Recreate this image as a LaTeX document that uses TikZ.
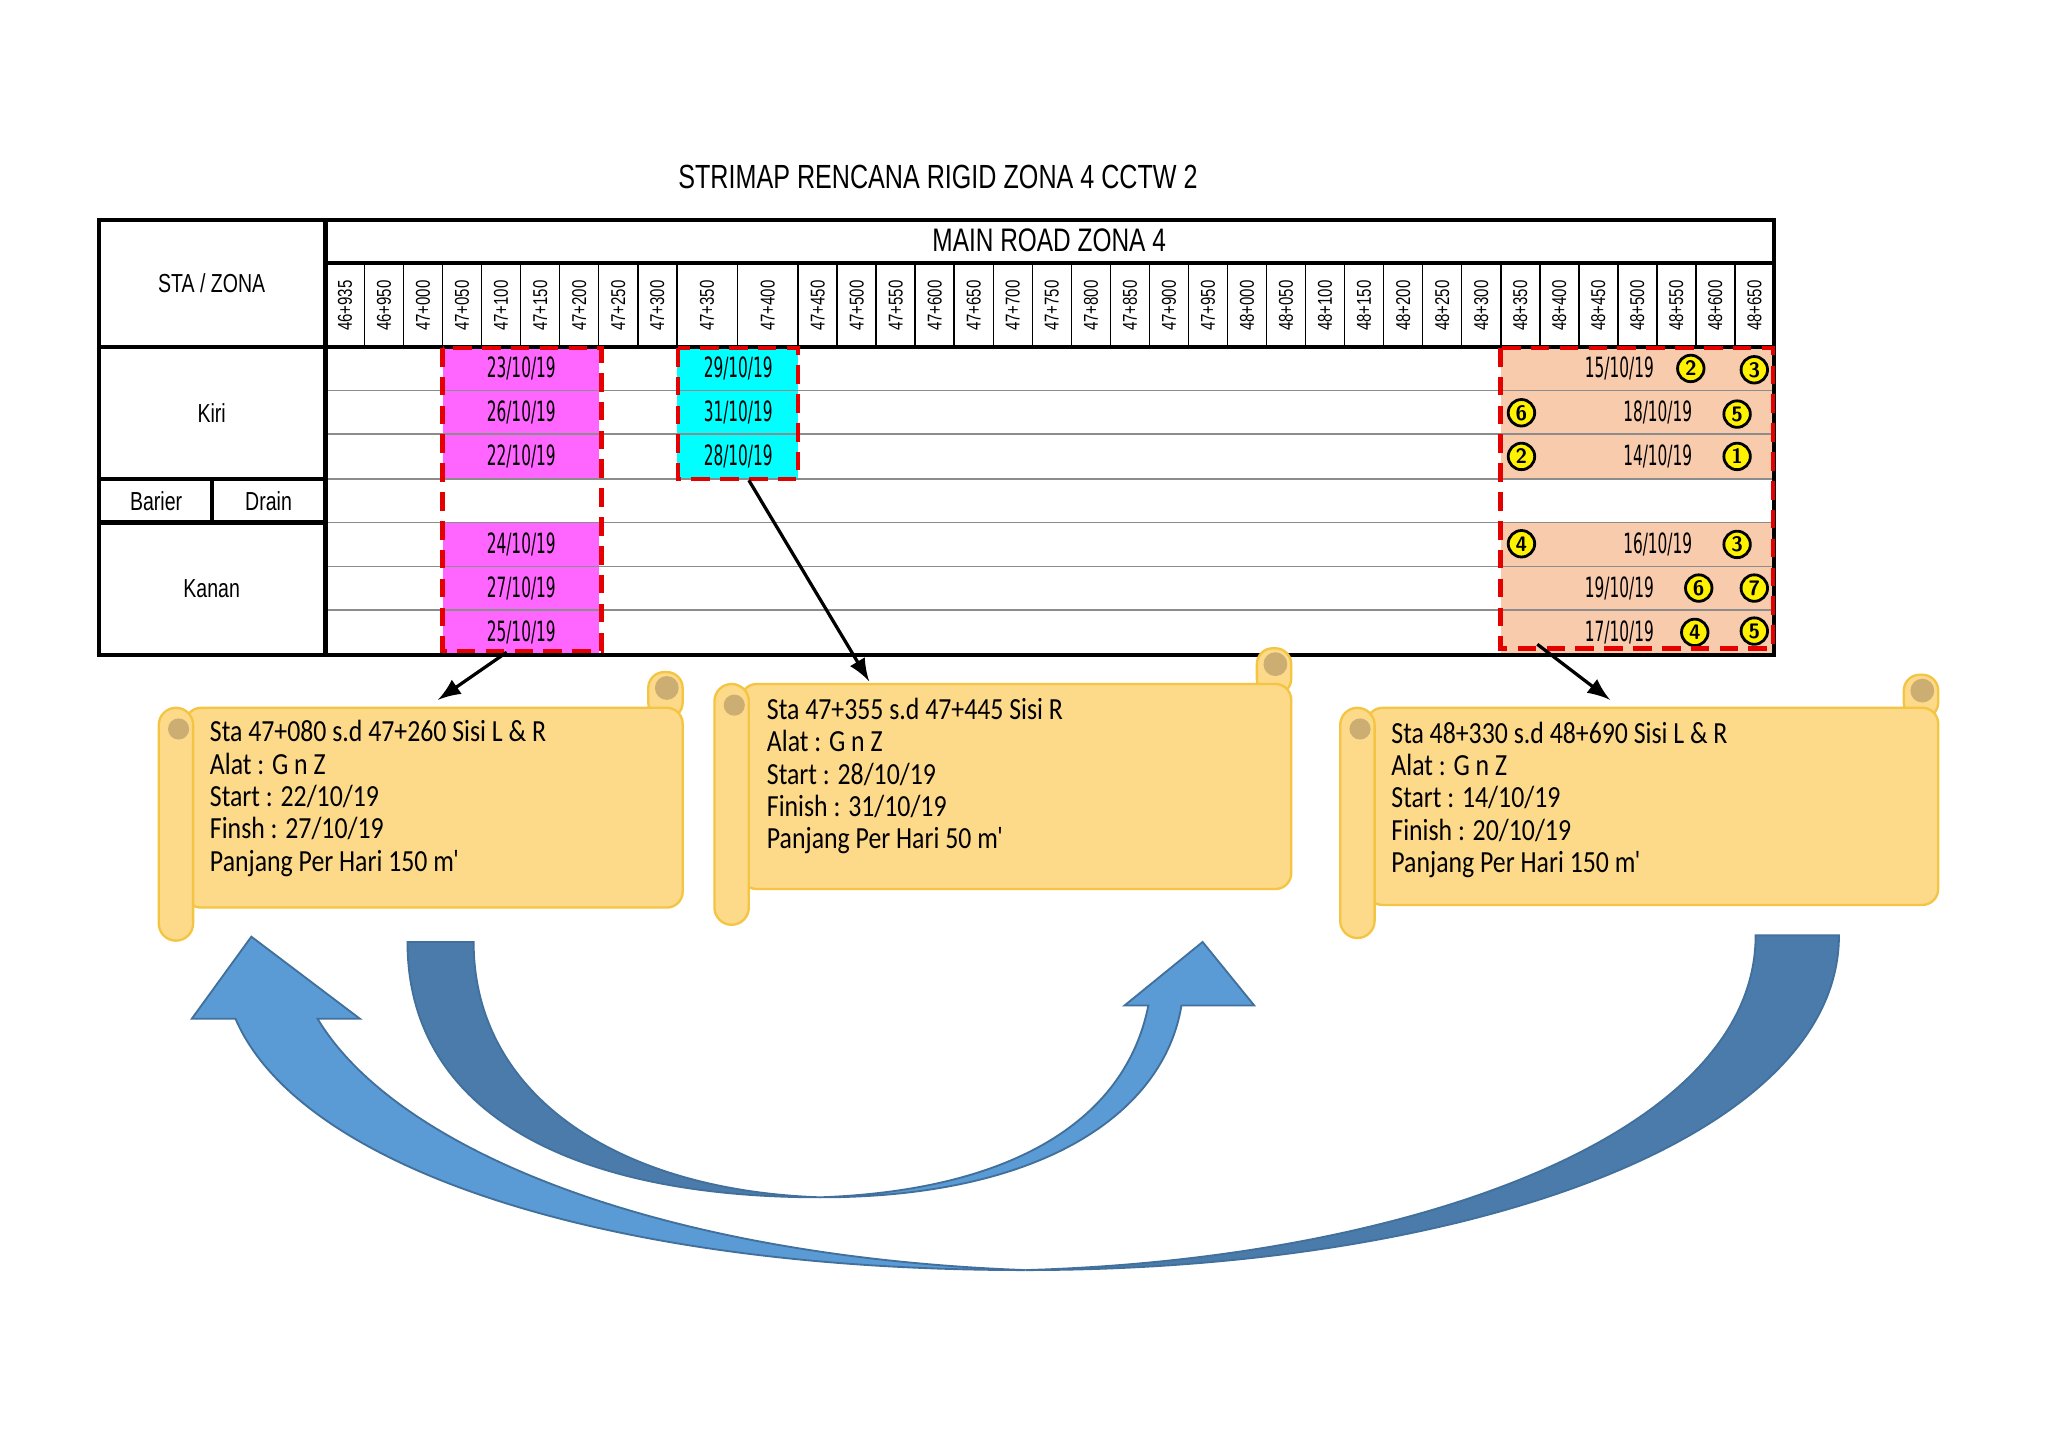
\documentclass[tikz,border=0pt]{standalone}
\usepackage{fontspec}
\setmainfont{Carlito}[FakeStretch=0.84]
\newfontfamily\cond{DejaVu Sans}[FakeStretch=0.55]
\newfontfamily\hdr{Liberation Sans}[FakeStretch=0.75]
\newcommand\apos{{\hdr\symbol{"27}}}
\begin{document}
\begin{tikzpicture}[x=0.01cm,y=-0.01cm,
  tb/.style={line width=0.9pt},
  thin/.style={line width=0.35pt},
  grid/.style={draw=black!45,line width=0.3pt},
  rdash/.style={draw=red!90!black,line width=1pt,dash pattern=on 4pt off 2.2pt},
  dt/.style={font=\cond\fontsize{6}{6}\selectfont,inner sep=0},
  cl/.style={font=\hdr\fontsize{4.3}{4.3}\selectfont,rotate=90,inner sep=0},
  num/.style={circle,draw=black,line width=0.6pt,fill=yellow,minimum size=0.2cm,inner sep=0,font=\sffamily\bfseries\fontsize{4.5}{4.5}\selectfont},
  lab/.style={font=\hdr\fontsize{5.6}{5.6}\selectfont,inner sep=0},
  scr/.style={fill=scfill,draw=scline,line width=0.5pt},
  stext/.style={font=\fontsize{6.6}{6.95}\selectfont,align=left,anchor=north west,inner sep=0},
  conn/.style={-latex,line width=0.7pt},
  dark/.style={fill=bdark,draw=bedge,line width=0.4pt},
  light/.style={fill=blight,draw=bedge,line width=0.4pt}]
\definecolor{mag}{HTML}{FF66FF}
\definecolor{cya}{HTML}{00FFFF}
\definecolor{pea}{HTML}{F8CBAD}
\definecolor{scfill}{HTML}{FDD98A}
\definecolor{scline}{HTML}{F4C542}
\definecolor{curl}{HTML}{CDAE72}
\definecolor{bdark}{HTML}{4A7BAA}
\definecolor{blight}{HTML}{5B9BD5}
\definecolor{bedge}{HTML}{41709C}
\useasboundingbox (0,0) rectangle (1548,1094);
\fill[white] (0,0) rectangle (1548,1094);

\node[font=\hdr\fontsize{7.2}{7.2}\selectfont] (title) at (709,134) {STRIMAP RENCANA RIGID ZONA 4 CCTW 2};

% coloured blocks
\foreach \ya/\yb in {262/295,295/328,328/362,395/428,428/461,461/495}{
  \fill[mag] (334.5,\ya) rectangle (452.5,\yb);
  \fill[pea] (1134.3,\ya) rectangle (1341,\yb);}
\foreach \ya/\yb in {262/295,295/328,328/362}{\fill[cya] (511.5,\ya) rectangle (603.3,\yb);}
% grid
\foreach \y in {295,328,362,395,428,461}{\draw[grid] (246,\y) -- (1341,\y);}
% header columns
\foreach \l [count=\i from 0] in {46+935,46+950,47+000,47+050,47+100,47+150,47+200,47+250,47+300,47+350,47+400,47+450,47+500,47+550,47+600,47+650,47+700,47+750,47+800,47+850,47+900,47+950,48+000,48+050,48+100,48+150,48+200,48+250,48+300,48+350,48+400,48+450,48+500,48+550,48+600,48+650}{
  \pgfmathsetmacro\xl{\i<9 ? 246+29.5*\i : (\i==9 ? 511.5 : (\i==10 ? 557.4 : 603.3+29.5*(\i-11)))}
  \pgfmathsetmacro\ii{\i+1}
  \pgfmathsetmacro\xr{\ii<9 ? 246+29.5*\ii : (\ii==9 ? 511.5 : (\ii==10 ? 557.4 : 603.3+29.5*(\ii-11)))}
  \draw[thin] (\xr,199) -- (\xr,262);
  \node[cl] (c\i) at ({(\xl+\xr)/2},231) {\l};}
% table frame
\draw[tb] (75,166) rectangle (1341,495);
\draw[tb] (246,166) -- (246,495);
\draw[tb] (246,199) -- (1341,199);
\draw[tb] (75,262) -- (1341,262);
\draw[tb] (75,362) -- (246,362);
\draw[tb] (75,395) -- (246,395);
\draw[tb] (160,362) -- (160,395);
\node[font=\hdr\fontsize{7}{7}\selectfont] (main) at (793,182) {MAIN ROAD ZONA 4};
\node[lab] (sta) at (160,214) {STA / ZONA};
\node[lab] (kiri) at (160,312) {Kiri};
\node[lab] (kanan) at (160,445) {Kanan};
\node[lab] (barier) at (118,379) {Barier};
\node[lab] (drain) at (203,379) {Drain};

% dates
\foreach \d/\y [count=\k] in {23/278.5,26/311.5,22/345,24/411.5,27/444.5,25/478}{\node[dt] (m\k) at (394,\y) {\d/10/19};}
\foreach \d/\y [count=\k] in {29/278.5,31/311.5,28/345}{\node[dt] (cy\k) at (558,\y) {\d/10/19};}
\node[dt] (p1) at (1224,278.5) {15/10/19};
\node[dt] (p2) at (1253,311.5) {18/10/19};
\node[dt] (p3) at (1253,345) {14/10/19};
\node[dt] (p5) at (1253,411.5) {16/10/19};
\node[dt] (p6) at (1224,444.5) {19/10/19};
\node[dt] (p7) at (1224,478) {17/10/19};
\foreach \n/\x/\y [count=\k] in {2/1278/278.5,3/1326/279.5,6/1150/312,5/1313/313,2/1150/345,1/1313/345,4/1150/411,3/1313/411.5,6/1284/444.5,7/1326/444.5,4/1281/478,5/1326/477}{
  \node[num] (n\k) at (\x,\y) {\n};}
% dashed frames
\draw[rdash] (334.5,263) rectangle (454.5,492);
\draw[rdash] (512.5,263) rectangle (603.3,362);
\draw[rdash] (1134.3,263) rectangle (1340,490);

% scrolls
\foreach \nm/\L/\T/\R/\B/\RB/\RT in {s1/120/535/516/686/711/508, s2/540/517/976/672/699/490, s3/1013/535/1465/684/709/510}{
  \draw[scr,rounded corners=0.12cm] ({\R-26},{\T+8}) -- ({\R-26},{\RT}) -- (\R,{\RT}) -- (\R,{\T+8}) -- cycle;
  \draw[scr,rounded corners=0.12cm] ({\L+20},\T) rectangle (\R,\B);
  \draw[scr,rounded corners=0.13cm] (\L,\T) rectangle ({\L+26},\RB);
  \fill[curl] ({\L+15},{\T+16}) circle (8);
  \fill[curl] ({\R-12},{\RT+12}) circle (9);
  \coordinate (\nm) at ({(\L+\R)/2},\T);
}
\node[stext] (t1) at (158,544) {Sta 47+080 s.d 47+260 Sisi L \& R\\Alat : G n Z\\Start : 22/10/19\\Finsh : 27/10/19\\Panjang Per Hari 150 m\apos};
\node[stext] (t2) at (579,527) {Sta 47+355 s.d 47+445 Sisi R\\Alat : G n Z\\Start : 28/10/19\\Finish : 31/10/19\\Panjang Per Hari 50 m\apos};
\node[stext] (t3) at (1051,545) {Sta 48+330 s.d 48+690 Sisi L \& R\\Alat : G n Z\\Start : 14/10/19\\Finish : 20/10/19\\Panjang Per Hari 150 m\apos};

\coordinate (a1) at (383,493);
\coordinate (a1e) at (331,529);
\coordinate (a2) at (566,363);
\coordinate (a2e) at (657,515);
\coordinate (a3) at (1162,487);
\coordinate (a3e) at (1217,529);
\draw[conn] (a1) -- (a1e);
\draw[conn] (a2) -- (a2e);
\draw[conn] (a3) -- (a3e);

% big curved arrow
\draw[dark] (1390,707) .. controls (1390,860) and (1110,960) .. (775,960)
   .. controls (1060,952) and (1327,860) .. (1327,707) -- cycle;
\draw[light] (775,960) .. controls (450,960) and (225,880) .. (178,770)
   -- (145,770) -- (190,708) -- (272,770) -- (240,770)
   .. controls (300,870) and (500,950) .. (775,960) -- cycle;
% small curved arrow
\draw[dark] (308,712) .. controls (308,840) and (430,905) .. (620,905)
   .. controls (470,900) and (358,830) .. (358,712) -- cycle;
\draw[light] (620,905) .. controls (790,905) and (880,840) .. (893,760)
   -- (948,760) -- (909,712) -- (850,760) -- (868,760)
   .. controls (850,850) and (760,900) .. (620,905) -- cycle;
\end{tikzpicture}
\end{document}
